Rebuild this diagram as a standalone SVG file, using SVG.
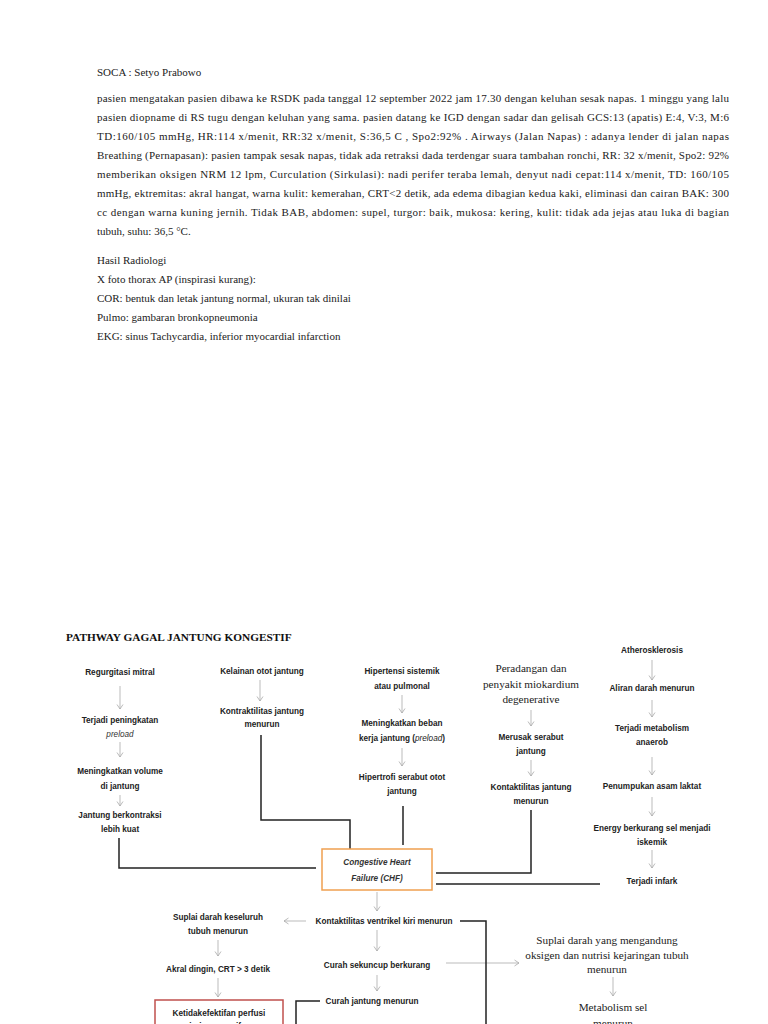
<svg xmlns="http://www.w3.org/2000/svg" width="768" height="1024" viewBox="0 0 768 1024">
<defs>
<style>
.p{font-family:"Liberation Serif",serif;font-size:11px;fill:#222}
.t{font-family:"Liberation Serif",serif;font-size:11.3px;font-weight:bold;fill:#111}
.f{font-family:"Liberation Sans",Arial,sans-serif;font-size:8.2px;font-weight:bold;fill:#222;text-anchor:middle}
.fi{font-family:"Liberation Sans",Arial,sans-serif;font-size:8.2px;font-style:italic;fill:#333;text-anchor:middle}
.s{font-family:"Liberation Serif",serif;font-size:11.2px;fill:#222;text-anchor:middle}
.ga{stroke:#aaa;stroke-width:0.8;fill:none;marker-end:url(#ah)}
.bl{stroke:#222;stroke-width:1.5;fill:none}
</style>
<marker id="ah" markerWidth="8" markerHeight="8" refX="6" refY="4" orient="auto" markerUnits="userSpaceOnUse"><path d="M1.5,1 L6,4 L1.5,7" fill="none" stroke="#aaa" stroke-width="0.8"/></marker>
</defs>
<rect width="768" height="1024" fill="#fff"/>
<g id="header">
<text class="p" x="97" y="76">SOCA : Setyo Prabowo</text>
<text class="p" x="97" y="102" textLength="632" lengthAdjust="spacing">pasien mengatakan pasien dibawa ke RSDK pada tanggal 12 september 2022 jam 17.30 dengan keluhan sesak napas. 1 minggu yang lalu</text>
<text class="p" x="97" y="121" textLength="632" lengthAdjust="spacing">pasien diopname di RS tugu dengan keluhan yang sama. pasien datang ke IGD dengan sadar dan gelisah GCS:13 (apatis) E:4, V:3, M:6</text>
<text class="p" x="97" y="140" textLength="632" lengthAdjust="spacing">TD:160/105 mmHg, HR:114 x/menit, RR:32 x/menit, S:36,5 C , Spo2:92% . Airways (Jalan Napas) : adanya lender di jalan napas</text>
<text class="p" x="97" y="159" textLength="632" lengthAdjust="spacing">Breathing (Pernapasan): pasien tampak sesak napas, tidak ada retraksi dada terdengar suara tambahan ronchi, RR: 32 x/menit, Spo2: 92%</text>
<text class="p" x="97" y="178" textLength="632" lengthAdjust="spacing">memberikan oksigen NRM 12 lpm, Curculation (Sirkulasi): nadi perifer teraba lemah, denyut nadi cepat:114 x/menit, TD: 160/105</text>
<text class="p" x="97" y="197" textLength="632" lengthAdjust="spacing">mmHg, ektremitas: akral hangat, warna kulit: kemerahan, CRT&lt;2 detik, ada edema dibagian kedua kaki, eliminasi dan cairan BAK: 300</text>
<text class="p" x="97" y="216" textLength="632" lengthAdjust="spacing">cc dengan warna kuning jernih. Tidak BAB, abdomen: supel, turgor: baik, mukosa: kering, kulit: tidak ada jejas atau luka di bagian</text>
<text class="p" x="97" y="235">tubuh, suhu: 36,5 °C.</text>
<text class="p" x="97" y="264">Hasil Radiologi</text>
<text class="p" x="97" y="283">X foto thorax AP (inspirasi kurang):</text>
<text class="p" x="97" y="302">COR: bentuk dan letak jantung normal, ukuran tak dinilai</text>
<text class="p" x="97" y="321">Pulmo: gambaran bronkopneumonia</text>
<text class="p" x="97" y="340">EKG: sinus Tachycardia, inferior myocardial infarction</text>
<text class="t" x="66" y="641">PATHWAY GAGAL JANTUNG KONGESTIF</text>
</g>
<g id="connectors">
<line class="ga" x1="120" y1="686" x2="120" y2="709"/>
<line class="ga" x1="120" y1="742" x2="120" y2="757"/>
<line class="ga" x1="120" y1="795" x2="120" y2="806"/>
<line class="ga" x1="260" y1="680" x2="260" y2="701"/>
<line class="ga" x1="402" y1="695" x2="402" y2="713"/>
<line class="ga" x1="402" y1="748" x2="402" y2="766"/>
<line class="ga" x1="531" y1="710" x2="531" y2="726"/>
<line class="ga" x1="531" y1="760" x2="531" y2="776"/>
<line class="ga" x1="652" y1="660" x2="652" y2="680"/>
<line class="ga" x1="652" y1="700" x2="652" y2="717"/>
<line class="ga" x1="652" y1="757" x2="652" y2="775"/>
<line class="ga" x1="652" y1="797" x2="652" y2="816"/>
<line class="ga" x1="652" y1="850" x2="652" y2="868"/>
<polyline class="bl" points="119,838 119,868 316,868"/>
<polyline class="bl" points="261,735 261,820 350,820 350,849"/>
<line class="bl" x1="403" y1="806" x2="403" y2="845"/>
<polyline class="bl" points="531,810 531,873 436,873"/>
<line class="bl" x1="436" y1="884" x2="600" y2="884"/>
<line class="ga" x1="377" y1="892" x2="377" y2="911"/>
<line class="ga" x1="306" y1="921" x2="284" y2="921"/>
<line class="ga" x1="218" y1="940" x2="218" y2="956"/>
<line class="ga" x1="218" y1="978" x2="218" y2="997"/>
<line class="ga" x1="377" y1="930" x2="377" y2="951"/>
<line class="ga" x1="446" y1="963" x2="519" y2="963"/>
<line class="ga" x1="377" y1="975" x2="377" y2="991"/>
<line class="ga" x1="613" y1="977" x2="613" y2="996"/>
<polyline class="bl" points="460,921 486,921 486,1024"/>
<polyline class="bl" points="320,1001 296,1001 296,1024"/>
</g>
<g id="n-regurgitasi"><text class="f" x="120" y="675">Regurgitasi mitral</text></g>
<g id="n-preload"><text class="f" x="120" y="723">Terjadi peningkatan</text><text class="fi" x="120" y="737">preload</text></g>
<g id="n-volume"><text class="f" x="120" y="774">Meningkatkan volume</text><text class="f" x="120" y="789">di jantung</text></g>
<g id="n-kontraksi"><text class="f" x="120" y="818">Jantung berkontraksi</text><text class="f" x="120" y="832">lebih kuat</text></g>
<g id="n-kelainan"><text class="f" x="262" y="674">Kelainan otot jantung</text></g>
<g id="n-kontraktilitas1"><text class="f" x="262" y="714">Kontraktilitas jantung</text><text class="f" x="262" y="727">menurun</text></g>
<g id="n-hipertensi"><text class="f" x="402" y="674">Hipertensi sistemik</text><text class="f" x="402" y="689">atau pulmonal</text></g>
<g id="n-beban"><text class="f" x="402" y="726">Meningkatkan beban</text><text class="f" x="402" y="741">kerja jantung (<tspan font-style="italic" font-weight="normal">preload</tspan>)</text></g>
<g id="n-hipertrofi"><text class="f" x="402" y="780">Hipertrofi serabut otot</text><text class="f" x="402" y="794">jantung</text></g>
<g id="n-peradangan"><text class="s" x="531" y="672">Peradangan dan</text><text class="s" x="531" y="688">penyakit miokardium</text><text class="s" x="531" y="703">degenerative</text></g>
<g id="n-merusak"><text class="f" x="531" y="740">Merusak serabut</text><text class="f" x="531" y="754">jantung</text></g>
<g id="n-kontaktilitas2"><text class="f" x="531" y="790">Kontaktilitas jantung</text><text class="f" x="531" y="804">menurun</text></g>
<g id="n-athero"><text class="f" x="652" y="653">Atherosklerosis</text></g>
<g id="n-aliran"><text class="f" x="652" y="691">Aliran darah menurun</text></g>
<g id="n-anaerob"><text class="f" x="652" y="731">Terjadi metabolism</text><text class="f" x="652" y="745">anaerob</text></g>
<g id="n-laktat"><text class="f" x="652" y="789">Penumpukan asam laktat</text></g>
<g id="n-iskemik"><text class="f" x="652" y="831">Energy berkurang sel menjadi</text><text class="f" x="652" y="845">iskemik</text></g>
<g id="n-infark"><text class="f" x="652" y="884">Terjadi infark</text></g>
<g id="n-chf"><rect x="322" y="849" width="110" height="41" fill="#fff" stroke="#f0a050" stroke-width="1.5"/><text class="fi" x="377" y="865" font-weight="bold">Congestive Heart</text><text class="fi" x="377" y="881" font-weight="bold">Failure (CHF)</text></g>
<g id="n-ventrikel"><text class="f" x="384" y="924">Kontaktilitas ventrikel kiri menurun</text></g>
<g id="n-suplai"><text class="f" x="218" y="920">Suplai darah keseluruh</text><text class="f" x="218" y="934">tubuh menurun</text></g>
<g id="n-akral"><text class="f" x="218" y="972">Akral dingin, CRT &gt; 3 detik</text></g>
<g id="n-perfusi"><rect x="155" y="1000" width="128" height="40" fill="#fff" stroke="#c0504d" stroke-width="1.5"/><text class="f" x="219" y="1016">Ketidakefektifan perfusi</text><text class="f" x="219" y="1029">jaringan perifer</text></g>
<g id="n-sekuncup"><text class="f" x="377" y="968">Curah sekuncup berkurang</text></g>
<g id="n-curah"><text class="f" x="372" y="1004">Curah jantung menurun</text></g>
<g id="n-oksigen"><text class="s" x="607" y="944">Suplai darah yang mengandung</text><text class="s" x="607" y="959">oksigen dan nutrisi kejaringan tubuh</text><text class="s" x="607" y="973">menurun</text></g>
<g id="n-metabolism"><text class="s" x="613" y="1011">Metabolism sel</text><text class="s" x="613" y="1027">menurun</text></g>
</svg>
